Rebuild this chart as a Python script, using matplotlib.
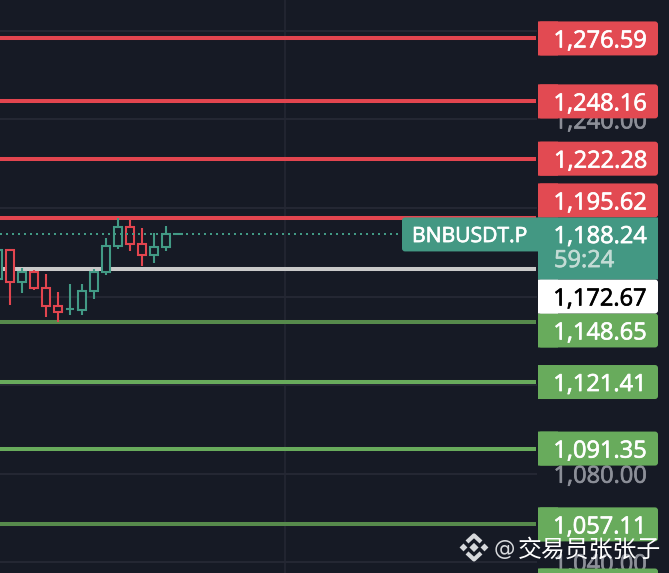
import matplotlib
matplotlib.use("Agg")
import matplotlib.pyplot as plt
import matplotlib.patheffects as pe
from matplotlib.patches import FancyBboxPatch

BG = "#161a25"
GRID = "#242733"
UP = "#429a85"
DOWN = "#e2454f"
RED_LABEL = "#e24a52"
GREEN_LABEL = "#68ab5c"
TEAL_LABEL = "#439883"

# price scale
PX_PER_PRICE = 2.214
TOP_PRICE = 1293.95
BOTTOM_PRICE = 1035.15

grid_prices = [1280, 1240, 1200, 1160, 1120, 1080, 1040]
axis_prices = [1240, 1080, 1040]
axis_labels = ["1,240.00", "1,080.00", "1,040.00"]

red_levels = [1276.59, 1248.16, 1222.28, 1195.62]
# tags get pushed away from their level when they would collide
red_tag_prices = [1276.59, 1248.16, 1222.28, 1203.42]
green_levels = [1148.65, 1121.41, 1091.35, 1057.11]
green_tag_prices = [1144.7, 1121.41, 1091.35, 1057.11]
green_line_colors = ["#568a4c", "#68ab5c", "#68ab5c", "#568a4c"]
white_level = 1172.67
white_tag_price = 1160.06
last_price = 1188.24
countdown = "59:24"
symbol = "BNBUSDT.P"
hidden_tag_price = 1029.5

opens = [1167.9, 1181.1, 1166.5, 1171.2, 1164.0, 1155.7, 1154.3, 1153.9, 1162.6, 1171.2, 1182.95, 1191.5, 1183.85, 1178.9, 1182.5, 1188.1]
closes = [1181.1, 1166.7, 1171.2, 1163.8, 1155.7, 1153.1, 1154.3, 1162.6, 1171.2, 1182.95, 1191.5, 1183.85, 1178.9, 1182.5, 1188.1, 1188.24]
highs = [1183.0, 1181.6, 1173.0, 1171.8, 1170.3, 1162.15, 1165.8, 1165.5, 1172.25, 1186.3, 1195.3, 1194.7, 1191.1, 1188.5, 1192.1, 1188.24]
lows = [1160.0, 1156.0, 1161.55, 1162.8, 1151.0, 1148.5, 1151.9, 1151.9, 1158.7, 1169.55, 1181.3, 1180.4, 1173.6, 1175.0, 1180.4, 1188.1]

FIRST_X = -2
STEP = 12
LABEL_SIZE = 17
TAG_H = 34 / PX_PER_PRICE


def tag_text(ax, x, y, s, color, ha="right", size=LABEL_SIZE):
    # thin stroke, the tags use a heavier font than Open Sans regular
    t = ax.text(x, y, s, color=color, ha=ha, va="center_baseline", fontsize=size, zorder=6)
    t.set_path_effects([pe.withStroke(linewidth=0.5, foreground=color)])
    return t


def label_box(ax, bottom, top, color, zorder=5):
    # rounded on the right, square on the left
    box = FancyBboxPatch((538, bottom), 120, top - bottom,
                         boxstyle="round,pad=0,rounding_size=3",
                         mutation_aspect=1 / PX_PER_PRICE,
                         fc=color, ec="none", zorder=zorder)
    ax.add_patch(box)
    ax.barh((bottom + top) / 2, 20, height=top - bottom, left=538, color=color, zorder=zorder, snap=False)


def level_label(ax, price, tag_price, color, txt_color="white"):
    label_box(ax, tag_price - TAG_H / 2, tag_price + TAG_H / 2, color)
    tag_text(ax, 647, tag_price, f"{price:,.2f}", txt_color)


plt.rcParams["font.family"] = ["Open Sans", "DejaVu Sans"]

fig = plt.figure(figsize=(6.69, 5.73), dpi=100, facecolor=BG)
ax = fig.add_axes([0, 0, 1, 1])
ax.set_facecolor(BG)
ax.set_xlim(0, 669)
ax.set_ylim(BOTTOM_PRICE, TOP_PRICE)
ax.axis("off")

# grid and the axis labels that sit behind the level tags
for p in grid_prices:
    ax.plot([0, 536], [p, p], color=GRID, lw=1.5, zorder=1)
for p, lab in zip(axis_prices, axis_labels):
    t = ax.text(647, p, lab, color="#8c8f98", ha="right", va="center_baseline", fontsize=LABEL_SIZE, zorder=2)
    t.set_path_effects([pe.withStroke(linewidth=0.5, foreground="#8c8f98")])
ax.plot([285, 285], [BOTTOM_PRICE, TOP_PRICE], color=GRID, lw=1.2, zorder=1)

# horizontal levels
for p in red_levels:
    ax.plot([0, 536], [p, p], color=DOWN, lw=2.9, zorder=2.5, solid_capstyle="butt")
for p, c in zip(green_levels, green_line_colors):
    ax.plot([0, 536], [p, p], color=c, lw=2.9, zorder=2.5, solid_capstyle="butt")
ax.plot([0, 536], [white_level, white_level], color="#c9c9c9", lw=2.9, zorder=2.5, solid_capstyle="butt")

# candles
for i in range(len(opens)):
    x = FIRST_X + i * STEP
    col = UP if closes[i] >= opens[i] else DOWN
    ax.plot([x, x], [lows[i], highs[i]], color=col, lw=1.5, zorder=3, solid_capstyle="butt")
    body_lo = min(opens[i], closes[i])
    body_hi = max(opens[i], closes[i])
    if i == len(opens) - 1:
        ax.plot([x - 5, x + 5], [closes[i], closes[i]], color=col, lw=1.5, zorder=3, solid_capstyle="butt")
    else:
        ax.bar(x, body_hi - body_lo, width=8.5, bottom=body_lo, facecolor=BG, edgecolor=col, linewidth=1.5, zorder=4)

ax.plot([0, 402], [last_price, last_price], color=UP, lw=1.44, ls=(0, (1, 2)), zorder=4.5)

# level tags
for p, tp in zip(red_levels, red_tag_prices):
    level_label(ax, p, tp, RED_LABEL)
for p, tp in zip(green_levels, green_tag_prices):
    level_label(ax, p, tp, GREEN_LABEL)
level_label(ax, white_level, white_tag_price, "white", "black")
label_box(ax, hidden_tag_price - TAG_H / 2, hidden_tag_price + TAG_H / 2, GREEN_LABEL)

# last price tag with countdown, two rows high
tag_top = red_tag_prices[3] - TAG_H / 2
tag_bottom = white_tag_price + TAG_H / 2
ax.barh((tag_top + tag_bottom) / 2, 120, height=tag_top - tag_bottom, left=538, color=TEAL_LABEL, zorder=5.5, snap=False)
tag_text(ax, 647, last_price, f"{last_price:,.2f}", "white")
tag_text(ax, 554, last_price - 24 / PX_PER_PRICE, countdown, "#c3dcd5", ha="left")

# symbol tag
sym_box = FancyBboxPatch((402, tag_top - TAG_H), 140, TAG_H,
                         boxstyle="round,pad=0,rounding_size=3",
                         mutation_aspect=1 / PX_PER_PRICE,
                         fc=TEAL_LABEL, ec="none", zorder=5)
ax.add_patch(sym_box)
tag_text(ax, 412, last_price, symbol, "white", ha="left", size=15.2)

# watermark
wm_y = 1276.59 - (547 - 38) / PX_PER_PRICE
dy = 1 / PX_PER_PRICE
ax.scatter([474, 463.5, 484.5], [wm_y, wm_y, wm_y], marker="D", s=[22, 16, 16], color="#d7d9dc", linewidths=0, zorder=7)
ax.plot([467, 474, 481], [wm_y + 5.5 * dy, wm_y + 12 * dy, wm_y + 5.5 * dy], color="#d7d9dc", lw=3, zorder=7, solid_capstyle="butt")
ax.plot([467, 474, 481], [wm_y - 5.5 * dy, wm_y - 12 * dy, wm_y - 5.5 * dy], color="#d7d9dc", lw=3, zorder=7, solid_capstyle="butt")
ax.text(494, wm_y, "@", color="#d7d9dc", ha="left", va="center_baseline", fontsize=15.5, zorder=7,
        family=["DejaVu Sans"])
ax.text(518, wm_y, "交易员张张子", color="white", ha="left", va="center_baseline", fontsize=17.2, zorder=7,
        family=["Noto Sans CJK SC", "DejaVu Sans"])

fig.savefig("out.png", dpi=100, facecolor=BG)
